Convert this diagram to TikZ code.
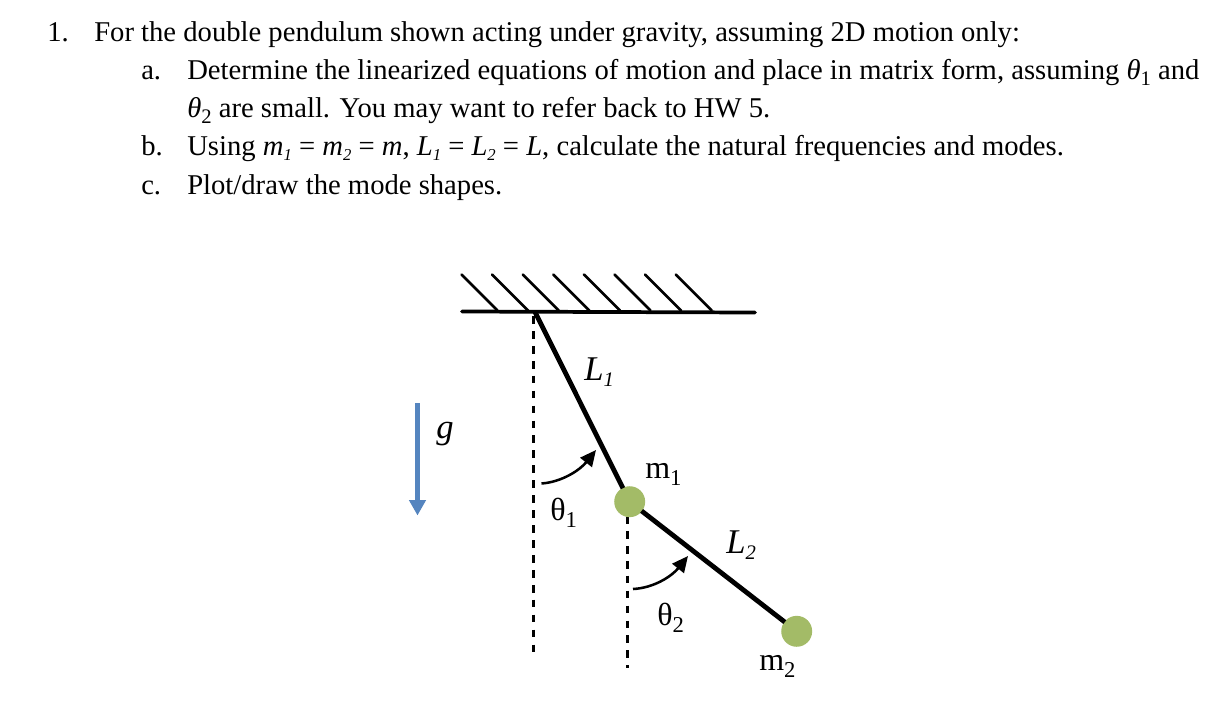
\documentclass[tikz,border=0pt]{standalone}
\usepackage{fontspec}
\setmainfont{Liberation Serif}
\usetikzlibrary{arrows.meta}
\definecolor{massgreen}{HTML}{A3BB67}
\definecolor{gblue}{HTML}{5585BF}
\newcommand{\subup}[1]{\raisebox{-0.22em}{\fontsize{15.5pt}{16pt}\selectfont #1}}
\newcommand{\subit}[1]{\raisebox{-0.16em}{\fontsize{12.5pt}{13pt}\selectfont\itshape #1}}
\newcommand{\figsub}[1]{\raisebox{-5.5pt}{\fontsize{17pt}{18pt}\selectfont #1}}
\newcommand{\figsubit}[1]{\raisebox{-5pt}{\fontsize{15.5pt}{16pt}\selectfont\itshape #1}}
\tikzset{
  txt/.style={anchor=base west,inner sep=0pt,font=\fontsize{21.48pt}{24pt}\selectfont},
  lab/.style={anchor=base west,inner sep=0pt,font=\fontsize{24pt}{26pt}\selectfont},
  labit/.style={anchor=base west,inner sep=0pt,font=\fontsize{26pt}{28pt}\selectfont\itshape},
  massnode/.style={circle,fill=massgreen,draw=none,minimum size=23.2pt,inner sep=0pt},
  hatch/.style={line width=2pt,line cap=round},
  ground/.style={line width=2.8pt,line cap=round},
  rod/.style={line width=3.6pt,shorten <=-0.5pt,shorten >=-0.5pt},
  dashline/.style={line width=1.6pt,dash pattern=on 5.8pt off 5.4pt},
  anglearrow/.style={line width=1.9pt,-{Triangle[length=12pt,width=11pt]}},
  garrow/.style={line width=3.2pt,gblue,-{Triangle[length=11.5pt,width=12pt]}}
}
\begin{document}
\begin{tikzpicture}[x=0.75pt,y=-0.75pt]
\useasboundingbox (0,0) rectangle (1223,721);
% text
\node[txt] (n1) at (47,41) {1.};
\node[txt] (t1) at (94,41) {For the double pendulum shown acting under gravity, assuming 2D motion only:};
\node[txt] (na) at (141,79.5) {a.};
\node[txt] (ta) at (187,79.5) {Determine the linearized equations of motion and place in matrix form, assuming \textit{θ}\subup{1} and};
\node[txt] (ta2) at (187,117) {\textit{θ}\subup{2} are small. You may want to refer back to HW 5.};
\node[txt] (nb) at (141,155.5) {b.};
\node[txt] (tb) at (187,155.5) {Using \textit{m\subit{1}} = \textit{m\subit{2}} = \textit{m}, \textit{L\subit{1}} = \textit{L\subit{2}} = \textit{L}, calculate the natural frequencies and modes.};
\node[txt] (nc) at (141,194) {c.};
\node[txt] (tc) at (187,194) {Plot/draw the mode shapes.};
% support
\coordinate (gl) at (462,311.5);
\coordinate (gr) at (755,312.5);
\draw[ground] (gl) -- (gr);
\foreach \i in {0,...,7} {
  \coordinate (ha\i) at ({461.5+30.6*\i},274.5);
  \coordinate (hb\i) at ({497.5+30.6*\i},310.5);
  \draw[hatch] (ha\i) -- (hb\i);
}
% dashed verticals
\coordinate (p) at (535,312);
\coordinate (d1a) at (533.5,316);
\coordinate (d1b) at (533.5,656);
\coordinate (d2a) at (627.5,516);
\coordinate (d2b) at (627.5,668);
\draw[dashline] (d1a) -- (d1b);
\draw[dashline] (d2a) -- (d2b);
% masses and rods
\node[massnode] (m1) at (629.7,501.7) {};
\node[massnode] (m2) at (796.7,631.3) {};
\draw[rod] (p) -- (m1);
\draw[rod] (m1) -- (m2);
% angle arrows
\coordinate (a1s) at (541.5,483.5);
\coordinate (a1e) at (596,450);
\coordinate (a2s) at (633,589);
\coordinate (a2e) at (688,556);
\draw[anglearrow] (a1s) .. controls (562,482) and (580,470) .. (a1e);
\draw[anglearrow] (a2s) .. controls (654,588) and (672,576) .. (a2e);
% gravity
\coordinate (g1) at (417.5,403);
\coordinate (g2) at (417.5,515.5);
\draw[garrow] (g1) -- (g2);
% labels
\node[labit] (lg) at (436,438) {g};
\node[labit] (ll1) at (584,380) {L\figsubit{1}};
\node[labit] (ll2) at (726,553) {L\figsubit{2}};
\node[lab] (lm1) at (645,478) {m\figsub{1}};
\node[lab] (lm2) at (759,670) {m\figsub{2}};
\node[lab] (lt1) at (550,520.5) {θ\figsub{1}};
\node[lab] (lt2) at (657,625) {θ\figsub{2}};
\end{tikzpicture}
\end{document}
